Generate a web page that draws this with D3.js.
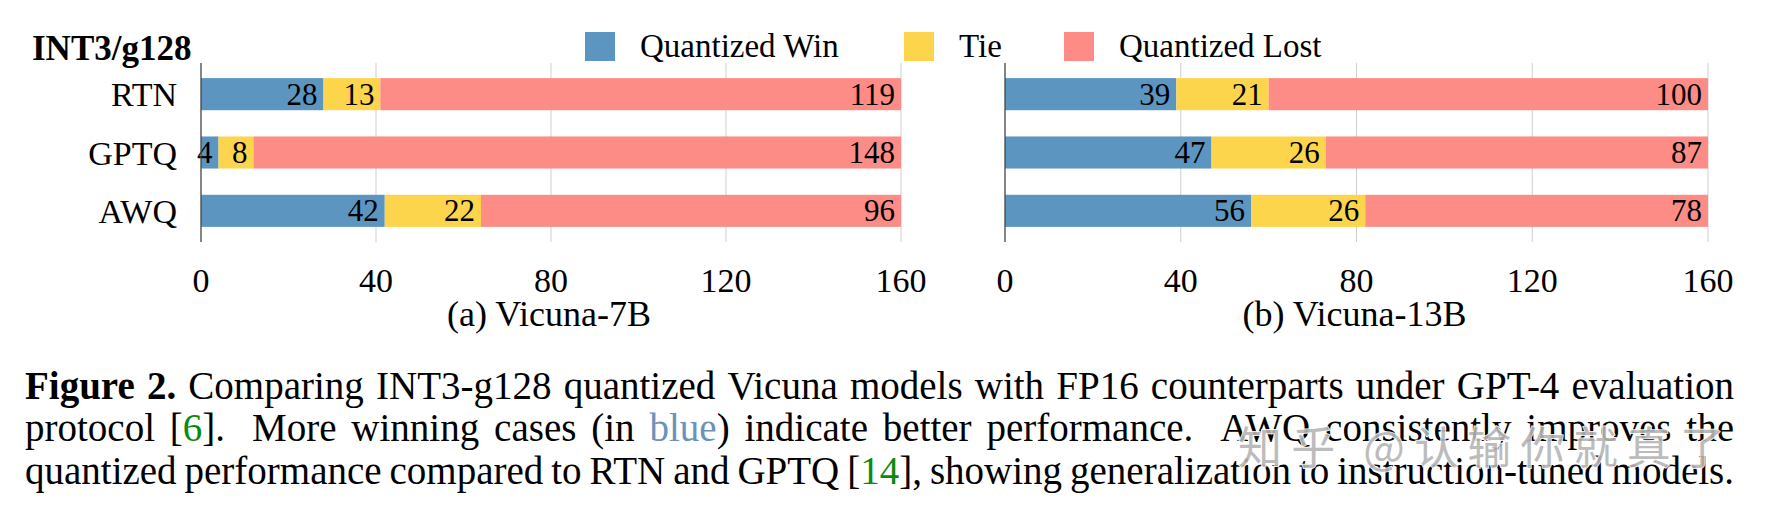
<!DOCTYPE html>
<html>
<head>
<meta charset="utf-8">
<script src="https://cdn.jsdelivr.net/npm/d3@7"></script>
<style>
  body { margin: 0; background: #fff; }
  text { font-family: "Liberation Serif", "Times New Roman", serif; }
</style>
</head>
<body>
<div id="chart"></div>
<script>
// data
const categories = ["RTN", "GPTQ", "AWQ"];
const seriesNames = ["Quantized Win", "Tie", "Quantized Lost"];
const win7b = [28, 4, 42];
const tie7b = [13, 8, 22];
const lost7b = [119, 148, 96];
const win13b = [39, 47, 56];
const tie13b = [21, 26, 26];
const lost13b = [100, 87, 78];
const xTicks = [0, 40, 80, 120, 160];
const panelTitles = ["(a) Vicuna-7B", "(b) Vicuna-13B"];

const colors = ["#5b95c0", "#fdd54c", "#fd8c86"];

function main() {
    const W = 1786, H = 526;
    const svg = d3.select("#chart").append("svg")
        .attr("width", W).attr("height", H);
    svg.append("rect").attr("width", W).attr("height", H).attr("fill", "#fff");

    const y = d3.scaleBand().domain(categories)
        .range([65, 240]).paddingInner(0.45).paddingOuter(0.225);

    const panels = [
        { x0: 201, x1: 901, series: [win7b, tie7b, lost7b], title: panelTitles[0] },
        { x0: 1005, x1: 1708, series: [win13b, tie13b, lost13b], title: panelTitles[1] }
    ];

    panels.forEach((p) => {
        const x = d3.scaleLinear().domain([0, 160]).range([p.x0, p.x1]);
        const g = svg.append("g");

        // grid lines
        g.selectAll("line.grid")
            .data(xTicks.slice(1))
            .join("line")
            .attr("x1", d => x(d)).attr("x2", d => x(d))
            .attr("y1", 63).attr("y2", 242)
            .attr("stroke", "#cfcfcf").attr("stroke-width", 1);

        // stacked bars
        const rows = categories.map((c, i) => {
            let acc = 0;
            return p.series.map((s, k) => {
                const seg = { cat: c, k: k, v: s[i], start: acc, end: acc + s[i] };
                acc += s[i];
                return seg;
            });
        }).flat();

        g.selectAll("rect.bar")
            .data(rows)
            .join("rect")
            .attr("x", d => x(d.start))
            .attr("y", d => y(d.cat))
            .attr("width", d => x(d.end) - x(d.start))
            .attr("height", y.bandwidth())
            .attr("fill", d => colors[d.k]);

        g.selectAll("text.val")
            .data(rows)
            .join("text")
            .attr("x", d => x(d.end) - 6)
            .attr("y", d => y(d.cat) + y.bandwidth() / 2 + 10.5)
            .attr("text-anchor", "end")
            .attr("font-size", 31)
            .attr("fill", "#000")
            .text(d => d.v);

        // zero axis line
        g.append("line")
            .attr("x1", x(0)).attr("x2", x(0))
            .attr("y1", 63).attr("y2", 242)
            .attr("stroke", "#444").attr("stroke-width", 1.3);

        // tick labels
        g.selectAll("text.tick")
            .data(xTicks)
            .join("text")
            .attr("x", d => x(d))
            .attr("y", 292)
            .attr("text-anchor", "middle")
            .attr("font-size", 34)
            .text(d => d);

        g.append("text")
            .attr("x", (p.x0 + p.x1) / 2 - 2)
            .attr("y", 326)
            .attr("text-anchor", "middle")
            .attr("font-size", 36)
            .text(p.title);
    });

    // category labels
    svg.selectAll("text.cat")
        .data(categories)
        .join("text")
        .attr("x", 177)
        .attr("y", d => y(d) + y.bandwidth() / 2 + 12)
        .attr("text-anchor", "end")
        .attr("font-size", 34)
        .text(d => d);

    svg.append("text")
        .attr("x", 32).attr("y", 60)
        .attr("font-size", 35)
        .attr("font-weight", "bold")
        .text("INT3/g128");

    // legend
    const legendX = [585, 904, 1064];
    const legend = svg.selectAll("g.legend")
        .data(seriesNames)
        .join("g")
        .attr("transform", (d, i) => `translate(${legendX[i]},32)`);
    legend.append("rect")
        .attr("width", 30).attr("height", 29)
        .attr("fill", (d, i) => colors[i]);
    legend.append("text")
        .attr("x", 55).attr("y", 25)
        .attr("font-size", 33)
        .text(d => d);

    // caption, justified (extra space after sentence ends)
    const B = "bold", G = "green", L = "blue", N = null;
    const captionLines = [
        [[["Figure", B]], [["2.", B]], [["Comparing", N]], [["INT3-g128", N]], [["quantized", N]], [["Vicuna", N]],
         [["models", N]], [["with", N]], [["FP16", N]], [["counterparts", N]], [["under", N]], [["GPT-4", N]], [["evaluation", N]]],
        [[["protocol", N]], [["[", N], ["6", G], ["].", N]], [["More", N]], [["winning", N]], [["cases", N]], [["(in", N]],
         [["blue", L], [")", N]], [["indicate", N]], [["better", N]], [["performance.", N]], [["AWQ", N]], [["consistently", N]],
         [["improves", N]], [["the", N]]],
        [[["quantized", N]], [["performance", N]], [["compared", N]], [["to", N]], [["RTN", N]], [["and", N]], [["GPTQ", N]],
         [["[", N], ["14", G], ["],", N]], [["showing", N]], [["generalization", N]], [["to", N]], [["instruction-tuned", N]], [["models.", N]]]
    ];
    const capLeft = 25, capRight = 1734, capBase = [399, 441, 484];
    captionLines.forEach((words, li) => {
        const nodes = words.map((w) => {
            const t = svg.append("text").attr("y", capBase[li]).attr("font-size", 39);
            w.forEach(([s, st]) => {
                const ts = t.append("tspan").text(s);
                if (st === B) ts.attr("font-weight", "bold");
                if (st === G) ts.attr("fill", "#0b8a0b");
                if (st === L) ts.attr("fill", "#6b92b8");
            });
            return t;
        });
        const texts = words.map(w => w.map(s => s[0]).join(""));
        const extra = texts.map((t, i) => (i < texts.length - 1 && li === 1 && /\.$/.test(t)) ? 12 : 0);
        const widths = nodes.map(n => n.node().getComputedTextLength());
        const total = d3.sum(widths) + d3.sum(extra);
        const gap = (capRight - capLeft - total) / (nodes.length - 1);
        let cx = capLeft;
        nodes.forEach((n, i) => {
            n.attr("x", cx);
            cx += widths[i] + gap + extra[i];
        });
    });

    // site watermark over the caption
    svg.append("text")
        .attr("x", 1238).attr("y", 464)
        .attr("font-size", 44)
        .style("font-family", "'Noto Sans CJK SC', sans-serif")
        .attr("fill", "#b5b5b5")
        .attr("stroke", "#fff").attr("stroke-width", 2)
        .attr("paint-order", "stroke")
        .attr("opacity", 0.9)
        .attr("textLength", 486)
        .text("知乎 @认输你就真了");
}
main();
</script>
</body>
</html>
